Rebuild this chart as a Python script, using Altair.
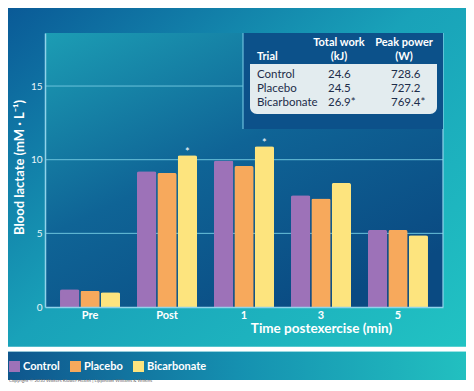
import altair as alt
import pandas as pd

# ---------------- data ----------------
times = ["Pre", "Post", "1", "3", "5"]
trials = ["Control", "Placebo", "Bicarbonate"]
control = [1.2, 9.21, 9.94, 7.58, 5.23]
placebo = [1.1, 9.10, 9.57, 7.36, 5.23]
bicarbonate = [1.0, 10.30, 10.91, 8.42, 4.87]
bicarb_sig = ["", "*", "*", "", ""]
y_ticks = [0, 5, 10, 15]
grid_values = [5, 10, 15]

table_trials = ["Control", "Placebo", "Bicarbonate"]
table_work = ["24.6", "24.5", "26.9*"]
table_power = ["728.6", "727.2", "769.4*"]

colors = ["#9d72b8", "#f7a95c", "#fde47e"]

rows = []
for series_name, vals in zip(trials, [control, placebo, bicarbonate]):
    for t, v in zip(times, vals):
        rows.append({"time": t, "trial": series_name, "value": v})
df = pd.DataFrame(rows)
sig_df = pd.DataFrame({"time": times, "trial": ["Bicarbonate"] * 5,
                       "value": bicarbonate, "sig": bicarb_sig})
sig_df = sig_df[sig_df["sig"] != ""]
grid_df = pd.DataFrame({"value": grid_values})
dummy = pd.DataFrame({"k": [0]})

W, H = 398, 274
FONT = "Lato"
yscale = alt.Scale(domain=[0, 18.6], nice=False, zero=True)
xscale = alt.Scale(paddingInner=0.22, paddingOuter=0.195)
xoscale = alt.Scale(paddingInner=0.05, paddingOuter=0)

y_axis = alt.Axis(values=y_ticks, grid=False, ticks=False, domainColor="#8fd3ea",
                  domainWidth=1.5, labelColor="#e8f4f8", labelFont=FONT,
                  labelFontSize=10, labelPadding=3,
                  title="Blood lactate (mM · L⁻¹)", titleFont=FONT, titleFontSize=13,
                  titleFontWeight="bold", titleColor="white", titleAngle=270,
                  titleX=-26, titleY=134, titleAlign="center", titleBaseline="middle",
                  zindex=1)
x_axis = alt.Axis(labelAngle=0, ticks=False, domainColor="#8fd3ea", domainWidth=1.5,
                  labelColor="white", labelFont=FONT, labelFontSize=11,
                  labelFontWeight="bold", labelPadding=2,
                  title="Time postexercise (min)", titleFont=FONT, titleFontSize=13.5,
                  titleFontWeight="bold", titleColor="white",
                  titleX=276, titleY=21, titleAlign="center", titleBaseline="middle",
                  zindex=1)


def grad(stops, x1=0, y1=0, x2=1, y2=1):
    return {"gradient": "linear", "x1": x1, "y1": y1, "x2": x2, "y2": y2,
            "stops": [{"offset": o, "color": c} for o, c in stops]}


def box(x1, x2, y1, y2, **mark):
    return alt.Chart(dummy).mark_rect(**mark).encode(
        x=alt.value(x1), x2=alt.value(x2), y=alt.value(y1), y2=alt.value(y2))


def rule(x1, x2, y1, y2, **mark):
    return alt.Chart(dummy).mark_rule(**mark).encode(
        x=alt.value(x1), x2=alt.value(x2), y=alt.value(y1), y2=alt.value(y2))


def txt(s, x, y, **mark):
    return alt.Chart(dummy).mark_text(lineBreak="\n", font=FONT, **mark).encode(
        x=alt.value(x), y=alt.value(y), text=alt.value(s))


outer_bg = box(-37, 421, -25, 350,
               fill=grad([(0, "#0a5a97"), (0.45, "#19a2b9"), (1, "#22c6c4")]))
white_strip = box(-37, 421, 313.7, 318.7, fill="#ffffff")
legend_band = box(-37, 421, 318.7, 347,
                  fill=grad([(0, "#0f568d"), (0.5, "#1590b0"), (1, "#22c0c0")], 0, 0, 1, 0))
bottom_strip = box(-37, 421, 347, 350, fill="#ffffff")
plot_bg = box(0, W, 0, H,
              fill=grad([(0, "#1c9db4"), (0.5, "#0f6496"), (1, "#0a4a82")], 0, 0, 0.7, 1))

grid = alt.Chart(grid_df).mark_rule(color="#6cc3dc", strokeWidth=1).encode(
    y=alt.Y("value:Q", scale=yscale, axis=y_axis))
right_border = rule(W, W, 0, H, color="#8fd3ea", strokeWidth=1.2)

table_box = box(198, W, 0, 96, fill="#0c518a")
table_border = rule(198, 198, 0, 96, color="#6cc0dc", strokeWidth=1.2)
inner_box = box(205, 392, 31, 81, fill="#e3ecef",
                cornerRadiusBottomLeft=7, cornerRadiusBottomRight=7)

hdr = dict(color="white", fontSize=11, fontWeight="bold", lineHeight=14, baseline="alphabetic")
head1 = txt("Total work\n(kJ)", 294, 13, align="center", **hdr)
head2 = txt("Peak power\n(W)", 359, 13, align="center", **hdr)
head3 = txt("Trial", 212, 27, align="left", **hdr)
rowstyle = dict(color="#1d2d4a", fontSize=11.5, lineHeight=14, baseline="alphabetic", align="left")
col1 = txt("\n".join(table_trials), 212, 45, **rowstyle)
col2 = txt("\n".join(table_work), 283, 45, **rowstyle)
col3 = txt("\n".join(table_power), 346, 45, **rowstyle)

bars = alt.Chart(df).mark_bar(cornerRadiusTopLeft=2, cornerRadiusTopRight=2).encode(
    x=alt.X("time:N", sort=times, scale=xscale, axis=x_axis),
    xOffset=alt.XOffset("trial:N", sort=trials, scale=xoscale),
    y=alt.Y("value:Q", scale=yscale, axis=y_axis),
    color=alt.Color("trial:N", sort=trials,
                    scale=alt.Scale(domain=trials, range=colors),
                    legend=alt.Legend(orient="none", legendX=-36, legendY=328,
                                      direction="horizontal", title=None,
                                      symbolType="square", symbolSize=121,
                                      symbolStrokeWidth=0, symbolOpacity=1,
                                      labelColor="white", labelFont=FONT, labelFontSize=11,
                                      labelFontWeight="bold", labelOffset=3,
                                      columnPadding=10, padding=0, zindex=1)),
)

stars = alt.Chart(sig_df).mark_text(color="white", font=FONT, fontSize=11,
                                    baseline="alphabetic", dy=1).encode(
    x=alt.X("time:N", sort=times, scale=xscale, axis=x_axis),
    xOffset=alt.XOffset("trial:N", sort=trials, scale=xoscale),
    y=alt.Y("value:Q", scale=yscale, axis=y_axis),
    text="sig:N")

copyright_txt = txt("Copyright © 2010 Wolters Kluwer Health | Lippincott Williams & Wilkins",
                    -36, 349, align="left", baseline="alphabetic", fontSize=4.5, color="#666666")

chart = alt.layer(
    outer_bg, white_strip, legend_band, bottom_strip, plot_bg, grid, right_border,
    table_box, table_border, inner_box, head1, head2, head3, col1, col2, col3,
    bars, stars, copyright_txt
).properties(
    width=W, height=H,
    padding={"left": 37, "top": 25, "right": 23, "bottom": 76},
    autosize=alt.AutoSizeParams(type="none"),
    background="#1690b0",
).configure_view(strokeWidth=0)

chart.save("out.html", embed_options={"renderer": "svg", "actions": False})
